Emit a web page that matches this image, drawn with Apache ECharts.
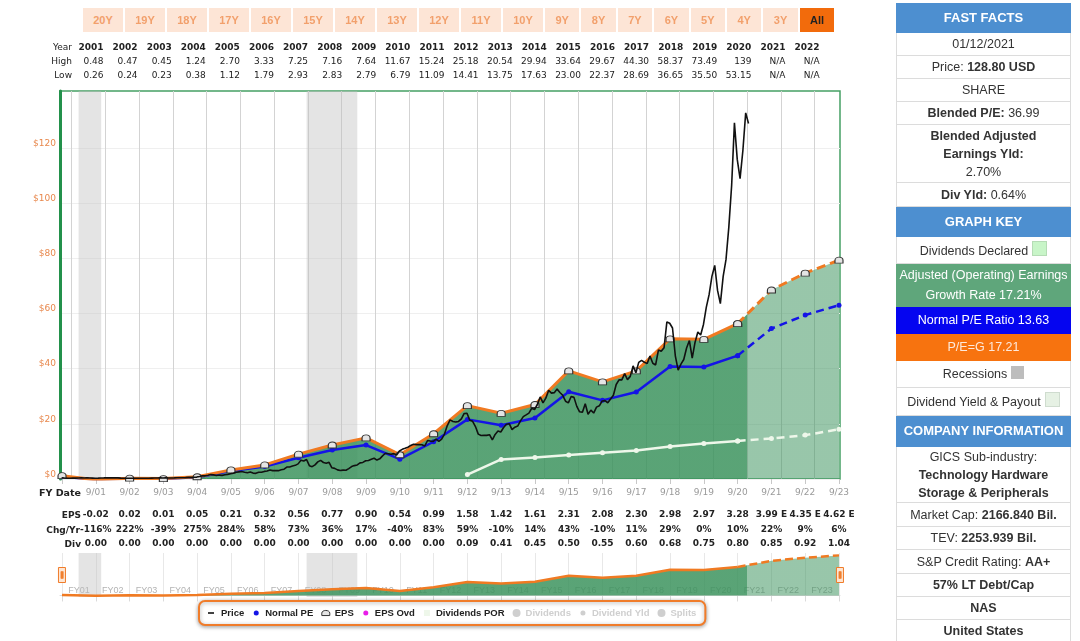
<!DOCTYPE html>
<html>
<head>
<meta charset="utf-8">
<title>FAST Graphs</title>
<script src="https://cdn.jsdelivr.net/npm/echarts@6/dist/echarts.min.js"></script>
<style>
  html, body { margin: 0; padding: 0; background: #fff; }
  #wrap { position: relative; width: 1080px; height: 641px; overflow: hidden; font-family: "Liberation Sans", Arial, sans-serif; }
  #echart1 { position: absolute; left: 0; top: 0; width: 1080px; height: 641px; }
  .btn { position: absolute; top: 8px; height: 24px; line-height: 24px; background: #fde5d6; color: #f2a06c; font-weight: bold; font-size: 11px; text-align: center; }
  .btn.on { background: #f26b0c; color: #222; }
  .cell { position: absolute; width: 46px; text-align: right; font-family: "DejaVu Sans", Verdana, sans-serif; font-size: 9px; color: #222; line-height: 12px; }
  .cell.b { font-weight: bold; }
  .panel { position: absolute; left: 896px; top: 3px; width: 175px; }
  .row { box-sizing: border-box; display: flex; align-items: center; justify-content: center; text-align: center; border: 1px solid #dcdcdc; border-top: none; font-size: 12.5px; color: #333; line-height: 18px; }
  .row.hd { background: #4d8fd0; color: #fff; font-weight: bold; font-size: 13px; border-color: #4d8fd0; }
  .row.gr { background: #5fa67b; color: #fff; line-height: 20px; border-color: #5fa67b; }
  .row.bl { background: #0505f0; color: #fff; border-color: #0505f0; }
  .row.or { background: #f7730f; color: #fde9dc; border-color: #f7730f; }
  .box { display: inline-block; width: 13px; height: 13px; margin-left: 4px; vertical-align: -1px; }
</style>
</head>
<body>
<div id="wrap">
  <div id="echart1"></div>
  <div id="top"></div>
  <div class="panel" id="panel"></div>
</div>
<script>
// range buttons and price table
var rangeButtons = ["20Y", "19Y", "18Y", "17Y", "16Y", "15Y", "14Y", "13Y", "12Y", "11Y", "10Y", "9Y", "8Y", "7Y", "6Y", "5Y", "4Y", "3Y", "All"];
var tableYears = ["2001", "2002", "2003", "2004", "2005", "2006", "2007", "2008", "2009", "2010", "2011", "2012", "2013", "2014", "2015", "2016", "2017", "2018", "2019", "2020", "2021", "2022"];
var tableHigh = ["0.48", "0.47", "0.45", "1.24", "2.70", "3.33", "7.25", "7.16", "7.64", "11.67", "15.24", "25.18", "20.54", "29.94", "33.64", "29.67", "44.30", "58.37", "73.49", "139", "N/A", "N/A"];
var tableLow = ["0.26", "0.24", "0.23", "0.38", "1.12", "1.79", "2.93", "2.83", "2.79", "6.79", "11.09", "14.41", "13.75", "17.63", "23.00", "22.37", "28.69", "36.65", "35.50", "53.15", "N/A", "N/A"];

// fiscal years (FY ends in September)
var fyYears = [2000, 2001, 2002, 2003, 2004, 2005, 2006, 2007, 2008, 2009, 2010, 2011, 2012, 2013, 2014, 2015, 2016, 2017, 2018, 2019, 2020, 2021, 2022, 2023];
var fyLabels = ["9/01", "9/02", "9/03", "9/04", "9/05", "9/06", "9/07", "9/08", "9/09", "9/10", "9/11", "9/12", "9/13", "9/14", "9/15", "9/16", "9/17", "9/18", "9/19", "9/20", "9/21", "9/22", "9/23"];
var epsText = ["-0.02", "0.02", "0.01", "0.05", "0.21", "0.32", "0.56", "0.77", "0.90", "0.54", "0.99", "1.58", "1.42", "1.61", "2.31", "2.08", "2.30", "2.98", "2.97", "3.28", "3.99 E", "4.35 E", "4.62 E"];
var chgText = ["-116%", "222%", "-39%", "275%", "284%", "58%", "73%", "36%", "17%", "-40%", "83%", "59%", "-10%", "14%", "43%", "-10%", "11%", "29%", "0%", "10%", "22%", "9%", "6%"];
var divText = ["0.00", "0.00", "0.00", "0.00", "0.00", "0.00", "0.00", "0.00", "0.00", "0.00", "0.00", "0.09", "0.41", "0.45", "0.50", "0.55", "0.60", "0.68", "0.75", "0.80", "0.85", "0.92", "1.04"];

// graph lines, one value per FY (FY00..FY23)
var epsLine = [1.2, -0.3, 0.3, 0.15, 0.8, 3.3, 5.1, 9.0, 12.3, 14.9, 8.8, 16.4, 26.6, 23.8, 27.0, 39.2, 35.2, 39.2, 50.8, 50.6, 56.3, 68.5, 74.6, 79.3];
var normalPE = [0.8, -0.2, 0.2, 0.1, 0.6, 2.9, 4.5, 7.7, 10.5, 12.3, 7.2, 13.5, 21.6, 19.5, 22.1, 31.6, 28.5, 31.5, 40.8, 40.6, 44.7, 54.5, 59.4, 63.0];
// dividends POR, FY12..FY23
var divPOR = [1.6, 7.1, 7.8, 8.7, 9.5, 10.3, 11.8, 12.9, 13.8, 14.7, 15.9, 18.0];
var divStart = 12;
var estIndex = 20; // last reported FY, dashed after
var estStart = 2021.0; // start of estimate shading

// monthly price, Sep 2000 .. Jan 2021
var priceMonthly = [
  0.46, 0.35, 0.29, 0.27,
  0.39, 0.33, 0.39, 0.46, 0.36, 0.42, 0.34, 0.33, 0.28, 0.31, 0.38, 0.39,
  0.44, 0.39, 0.42, 0.43, 0.42, 0.32, 0.27, 0.26, 0.26, 0.29, 0.28, 0.26,
  0.26, 0.27, 0.25, 0.25, 0.32, 0.34, 0.38, 0.40, 0.37, 0.41, 0.37, 0.38,
  0.40, 0.43, 0.48, 0.46, 0.50, 0.58, 0.58, 0.61, 0.69, 0.94, 1.20, 1.15,
  1.37, 1.60, 1.49, 1.29, 1.42, 1.31, 1.52, 1.67, 1.91, 2.06, 2.42, 2.57,
  2.70, 2.45, 2.24, 2.51, 2.13, 2.05, 2.43, 2.42, 2.75, 2.90, 3.27, 3.03,
  3.06, 3.02, 3.32, 3.56, 4.33, 4.36, 4.71, 4.95, 5.48, 6.78, 6.51, 7.07,
  4.83, 4.47, 5.13, 6.21, 6.74, 5.98, 5.68, 6.05, 4.06, 3.84, 3.31, 3.05,
  3.22, 3.19, 3.75, 4.49, 4.85, 5.09, 5.84, 6.01, 6.62, 6.73, 7.14, 7.53,
  6.86, 7.31, 8.39, 9.32, 9.17, 8.98, 9.19, 8.68, 10.13, 10.75, 11.11, 11.52,
  12.12, 12.61, 12.45, 12.50, 12.42, 11.99, 13.95, 13.74, 13.62, 14.46, 13.65, 14.46,
  16.30, 19.37, 21.41, 20.86, 20.63, 20.86, 21.81, 23.76, 23.82, 21.26, 20.90, 19.01,
  16.27, 15.76, 15.81, 15.81, 16.06, 14.16, 16.16, 17.40, 17.03, 18.67, 19.86, 20.04,
  17.88, 18.79, 19.17, 21.07, 22.61, 23.23, 23.90, 25.63, 25.19, 27.00, 29.73, 27.60,
  29.29, 32.12, 31.11, 31.29, 32.57, 31.36, 30.33, 28.19, 27.58, 29.88, 29.58, 26.32,
  24.34, 24.17, 27.25, 23.44, 24.97, 23.90, 26.05, 26.53, 28.26, 28.39, 27.63, 28.96,
  30.34, 34.25, 35.92, 35.91, 38.19, 36.01, 37.18, 41.00, 38.53, 42.26, 42.96, 42.31,
  41.86, 44.53, 41.95, 41.32, 46.72, 46.28, 47.57, 56.91, 56.44, 54.72, 44.65, 39.44,
  41.61, 43.29, 47.49, 50.17, 43.77, 49.48, 53.26, 52.19, 55.99, 62.19, 66.81, 73.41,
  77.38, 68.34, 63.57, 73.45, 79.49, 91.20, 106.26, 129.04, 115.81, 108.86, 119.05, 132.69,
  128.80
];
var priceStartYear = 2000;
var priceStartMonth = 8; // September, 0-based

var recessions = [[2001.21, 2001.88], [2007.96, 2009.46]];
var gridYears = [2001, 2002, 2003, 2004, 2005, 2006, 2007, 2008, 2009, 2010, 2011, 2012, 2013, 2014, 2015, 2016, 2017, 2018, 2019, 2020, 2021, 2022, 2023];
var yTicks = [0, 20, 40, 60, 80, 100, 120];

// side panel
var panelRows = [
  { h: 30, c: "hd", t: "FAST FACTS" },
  { h: 23, t: "01/12/2021" },
  { h: 23, t: "Price: <b>128.80 USD</b>" },
  { h: 23, t: "SHARE" },
  { h: 23, t: "<b>Blended P/E:</b> 36.99" },
  { h: 58, t: "<b>Blended Adjusted<br>Earnings Yld:</b><br>2.70%" },
  { h: 24, t: "<b>Div Yld:</b> 0.64%" },
  { h: 30, c: "hd", t: "GRAPH KEY" },
  { h: 27, t: 'Dividends Declared<span class="box" style="background:#c8f5c8;border:1px solid #b5dcb5"></span>' },
  { h: 43, c: "gr", t: "Adjusted (Operating) Earnings<br>Growth Rate 17.21%" },
  { h: 27, c: "bl", t: "Normal P/E Ratio 13.63" },
  { h: 27, c: "or", t: "P/E=G 17.21" },
  { h: 27, t: 'Recessions<span class="box" style="background:#bdbdbd"></span>' },
  { h: 28, t: 'Dividend Yield &amp; Payout<span class="box" style="background:#e6f1e4;border:1px solid #cfdccf"></span>' },
  { h: 31, c: "hd", t: "COMPANY INFORMATION" },
  { h: 56, t: "GICS Sub-industry:<br><b>Technology Hardware<br>Storage &amp; Peripherals</b>" },
  { h: 24, t: "Market Cap: <b>2166.840 Bil.</b>" },
  { h: 23, t: "TEV: <b>2253.939 Bil.</b>" },
  { h: 24, t: "S&amp;P Credit Rating: <b>AA+</b>" },
  { h: 23, t: "<b>57% LT Debt/Cap</b>" },
  { h: 23, t: "<b>NAS</b>" },
  { h: 23, t: "<b>United States</b>" }
];

// html parts: buttons, table, panel
(function () {
  var top = document.getElementById("top");
  var html = "";
  var x = 83;
  for (var i = 0; i < rangeButtons.length; i++) {
    var w = i < 11 ? 40 : 34.4;
    html += '<div class="btn' + (rangeButtons[i] === "All" ? " on" : "") + '" style="left:' + x + "px;width:" + w + 'px">' + rangeButtons[i] + "</div>";
    x += w + 2;
  }
  var rows = [["Year", tableYears, 41, true], ["High", tableHigh, 55, false], ["Low", tableLow, 69, false]];
  rows.forEach(function (r) {
    html += '<div class="cell" style="left:26px;top:' + r[2] + 'px">' + r[0] + "</div>";
    for (var j = 0; j < r[1].length; j++) {
      var right = 103.5 + 34.1 * j;
      html += '<div class="cell' + (r[3] ? " b" : "") + '" style="left:' + (right - 46) + "px;top:" + r[2] + 'px">' + r[1][j] + "</div>";
    }
  });
  top.innerHTML = html;

  var p = "";
  panelRows.forEach(function (r, k) {
    p += '<div class="row ' + (r.c || "") + '" style="height:' + r.h + "px" + (k === 0 ? ";border-top:1px solid #4d8fd0" : "") + '"><div>' + r.t + "</div></div>";
  });
  document.getElementById("panel").innerHTML = p;
})();

// chart
(function () {
  var myChart = echarts.init(document.getElementById("echart1"));
  var XMIN = 2000.66, XMAX = 2023.75;
  var fyX = fyYears.map(function (y) { return y + 0.72; });
  var lastI = fyX.length - 1;

  function pts(vals, from, to, offset) {
    var out = [];
    for (var i = from; i <= to; i++) out.push([fyX[i], vals[i - (offset || 0)]]);
    return out;
  }
  function fyIndex(v) {
    return Math.round(v - 0.72) - 2001;
  }

  var priceData = priceMonthly.map(function (v, k) {
    var m = priceStartMonth + k;
    return [priceStartYear + Math.floor(m / 12) + ((m % 12) + 0.5) / 12, v];
  });

  var f = (estStart - fyX[0]) / (fyX[lastI] - fyX[0]);
  function areaGrad() {
    return new echarts.graphic.LinearGradient(0, 0, 1, 0, [
      { offset: 0, color: "rgba(58,146,92,0.84)" },
      { offset: f, color: "rgba(58,146,92,0.84)" },
      { offset: f, color: "rgba(58,146,92,0.52)" },
      { offset: 1, color: "rgba(58,146,92,0.52)" },
    ]);
  }

  var DOME = "path://M0,8L0,5C0,0.5 10,0.5 10,5L10,8Z";
  var DOT = "path://M0,0M8,8M1.5,4A2.5,2.5 0 1,0 6.5,4A2.5,2.5 0 1,0 1.5,4Z";
  var DASH = "path://M0,0M8,8M0,3.2L6,3.2L6,4.8L0,4.8Z";
  var ORANGE = "#f07a22", BLUE = "#1414e6", DIVC = "#eef7ea";

  function rowAxis(offset, arr) {
    return {
      type: "value", gridIndex: 0, min: XMIN, max: XMAX, position: "bottom", offset: offset,
      axisLine: { show: false }, axisTick: { show: false }, splitLine: { show: false },
      axisLabel: {
        customValues: fyX.slice(1), margin: 0,
        fontFamily: "DejaVu Sans", fontSize: 9, fontWeight: "bold", color: "#222",
        formatter: function (v) { return arr[fyIndex(v)] || ""; },
      },
    };
  }

  var option = {
    animation: false,
    grid: [
      { left: 60, right: 240, top: 91, bottom: 162, show: true, borderColor: "#45a064", borderWidth: 1.5 },
      { left: 60, right: 240, top: 553, bottom: 44 },
    ],
    xAxis: [
      {
        type: "value", gridIndex: 0, min: XMIN, max: XMAX,
        axisLine: { show: false },
        axisTick: { show: false, customValues: gridYears },
        axisLabel: { show: false },
        splitLine: { show: true, lineStyle: { color: "#d3d3d3", width: 1 } },
      },
      {
        type: "value", gridIndex: 0, min: XMIN, max: XMAX, position: "bottom", offset: 0,
        axisLine: { show: false },
        axisTick: { show: true, customValues: fyX, length: 5, lineStyle: { color: "#c8c8c8" } },
        splitLine: { show: false },
        axisLabel: {
          customValues: fyX.slice(1), margin: 9.5,
          fontFamily: "DejaVu Sans", fontSize: 9, color: "#9a9a9a",
          formatter: function (v) { return fyLabels[fyIndex(v)] || ""; },
        },
      },
      rowAxis(31.5, epsText),
      rowAxis(46, chgText),
      rowAxis(60.5, divText),
      {
        type: "value", gridIndex: 1, min: XMIN, max: XMAX,
        axisLine: { show: true, lineStyle: { color: "#dadada" } },
        axisTick: { show: true, customValues: fyX, length: 6, lineStyle: { color: "#dadada" } },
        splitLine: { show: true, lineStyle: { color: "#e8e8e8" } },
        axisLabel: {
          customValues: fyX.slice(1).map(function (v) { return v - 0.5; }),
          inside: true, margin: 2, fontFamily: "Liberation Sans", fontSize: 9, color: "#b3b3b3",
          formatter: function (v) { return "FY" + String(Math.round(v - 0.22)).slice(2); },
        },
      },
    ],
    yAxis: [
      {
        type: "value", gridIndex: 0, min: 0, max: 140.6,
        axisLine: { show: true, lineStyle: { color: "#23914b", width: 3 } },
        axisTick: { show: false, customValues: yTicks },
        axisLabel: {
          customValues: yTicks, margin: 4, verticalAlign: "bottom",
          fontFamily: "DejaVu Sans", fontSize: 9, color: "#e8884d",
          formatter: function (v) { return "$" + v; },
        },
        splitLine: { show: true, lineStyle: { color: "#efefef" } },
      },
      { type: "value", gridIndex: 1, min: -3, max: 84, show: false },
    ],
    dataZoom: [
      {
        type: "slider", xAxisIndex: 5, filterMode: "none", start: 0, end: 100,
        left: 60, right: 240, top: 553, height: 44,
        showDetail: false, showDataShadow: false, brushSelect: false, moveHandleSize: 0,
        backgroundColor: "rgba(0,0,0,0)", borderColor: "rgba(0,0,0,0)", fillerColor: "rgba(0,0,0,0)",
        handleIcon: "path://M0,0H7V15H0Z M2.6,4H3.1V11H2.6Z M4.1,4H4.6V11H4.1Z",
        handleSize: 15,
        handleStyle: { color: "#fde6d4", borderColor: "#f07c2a", borderWidth: 1 },
        emphasis: { handleStyle: { color: "#fde6d4", borderColor: "#f07c2a" } },
      },
    ],
    legend: {
      left: 199, top: 601, orient: "horizontal",
      itemWidth: 8, itemHeight: 8, itemGap: 8, padding: [7, 9],
      borderColor: "#f07c2a", borderWidth: 2, borderRadius: 6, backgroundColor: "#fff",
      shadowBlur: 4, shadowColor: "rgba(0,0,0,0.35)", shadowOffsetY: 1,
      textStyle: { fontFamily: "Liberation Sans", fontSize: 9.5, fontWeight: "bold", color: "#222" },
      inactiveColor: "#cfcfcf",
      selected: { Dividends: false, "Dividend Yld": false, Splits: false },
      data: [
        { name: "Price", icon: DASH },
        { name: "Normal PE", icon: DOT },
        { name: "EPS", icon: DOME, itemStyle: { color: "#e4e4e4", borderColor: "#333", borderWidth: 1 } },
        { name: "EPS Ovd", icon: DOT },
        { name: "Dividends POR", icon: "path://M0,0M8,8M1,1L7,1L7,7L1,7Z" },
        { name: "Dividends", icon: "circle" },
        { name: "Dividend Yld", icon: DOT },
        { name: "Splits", icon: "circle" },
      ],
    },
    series: [
      {
        name: "Recessions", type: "line", data: [], z: 1, silent: true,
        markArea: {
          silent: true, itemStyle: { color: "rgba(190,190,190,0.42)" },
          data: recessions.map(function (r) { return [{ xAxis: r[0] }, { xAxis: r[1] }]; }),
        },
      },
      {
        name: "EPS Area", type: "line", data: pts(epsLine, 0, lastI), symbol: "none", silent: true, z: 2,
        lineStyle: { width: 0 }, areaStyle: { color: areaGrad(), opacity: 1 },
      },
      {
        name: "Dividends POR", type: "line", data: pts(divPOR, divStart, estIndex, divStart), z: 3,
        symbol: "circle", symbolSize: 5, itemStyle: { color: DIVC }, lineStyle: { color: DIVC, width: 2.5 },
      },
      {
        name: "Dividends POR", type: "line", data: pts(divPOR, estIndex, lastI, divStart), z: 3,
        symbol: "circle", symbolSize: 5, itemStyle: { color: DIVC }, lineStyle: { color: DIVC, width: 2.5, type: [8, 5] },
      },
      {
        name: "Normal PE", type: "line", data: pts(normalPE, 0, estIndex), z: 4,
        symbol: "circle", symbolSize: 5, itemStyle: { color: BLUE }, lineStyle: { color: BLUE, width: 2.5 },
      },
      {
        name: "Normal PE", type: "line", data: pts(normalPE, estIndex, lastI), z: 4,
        symbol: "circle", symbolSize: 5, itemStyle: { color: BLUE }, lineStyle: { color: BLUE, width: 2.5, type: [8, 5] },
      },
      {
        name: "EPS", type: "line", data: pts(epsLine, 0, estIndex), z: 5,
        symbol: DOME, symbolSize: [8, 6], itemStyle: { color: "#e4e4e4", borderColor: "#333", borderWidth: 1 },
        lineStyle: { color: ORANGE, width: 3 },
      },
      {
        name: "EPS", type: "line", data: pts(epsLine, estIndex, lastI), z: 5,
        symbol: DOME, symbolSize: [8, 6], itemStyle: { color: "#e4e4e4", borderColor: "#333", borderWidth: 1 },
        lineStyle: { color: ORANGE, width: 3, type: [9, 5] },
      },
      {
        name: "Price", type: "line", data: priceData, z: 6, symbol: "none",
        itemStyle: { color: "#111" }, lineStyle: { color: "#111", width: 1.6 },
      },
      { name: "EPS Ovd", type: "line", data: [], itemStyle: { color: "#e81ee8" } },
      { name: "Dividends", type: "line", data: [], itemStyle: { color: "#999" } },
      { name: "Dividend Yld", type: "line", data: [], itemStyle: { color: "#999" } },
      { name: "Splits", type: "line", data: [], itemStyle: { color: "#999" } },
      // navigator
      {
        name: "navRecessions", type: "line", xAxisIndex: 5, yAxisIndex: 1, data: [], silent: true, z: 1,
        markArea: {
          silent: true, itemStyle: { color: "rgba(190,190,190,0.42)" },
          data: recessions.map(function (r) { return [{ xAxis: r[0] }, { xAxis: r[1] }]; }),
        },
      },
      {
        name: "navArea", type: "line", xAxisIndex: 5, yAxisIndex: 1, data: pts(epsLine, 0, lastI), symbol: "none",
        silent: true, z: 2, lineStyle: { width: 0 }, areaStyle: { color: areaGrad(), opacity: 1 },
      },
      {
        name: "navLine", type: "line", xAxisIndex: 5, yAxisIndex: 1, data: pts(epsLine, 0, estIndex), symbol: "none",
        silent: true, z: 3, lineStyle: { color: ORANGE, width: 2.5 },
      },
      {
        name: "navDash", type: "line", xAxisIndex: 5, yAxisIndex: 1, data: pts(epsLine, estIndex, lastI), symbol: "none",
        silent: true, z: 3, lineStyle: { color: ORANGE, width: 2.5, type: [8, 4] },
      },
    ],
    graphic: [
      { type: "text", x: 81, y: 494, style: { text: "FY Date", align: "right", verticalAlign: "middle", font: "bold 9.5px 'DejaVu Sans'", fill: "#222" } },
      { type: "text", x: 81, y: 516, style: { text: "EPS", align: "right", verticalAlign: "middle", font: "bold 9px 'DejaVu Sans'", fill: "#222" } },
      { type: "text", x: 80, y: 530.5, style: { text: "Chg/Yr", align: "right", verticalAlign: "middle", font: "bold 9px 'DejaVu Sans'", fill: "#222" } },
      { type: "text", x: 81, y: 545, style: { text: "Div", align: "right", verticalAlign: "middle", font: "bold 9px 'DejaVu Sans'", fill: "#222" } },
    ],
  };

  myChart.setOption(option);
  window.addEventListener("resize", function () {
    myChart.resize();
  });
})();
</script>
</body>
</html>
